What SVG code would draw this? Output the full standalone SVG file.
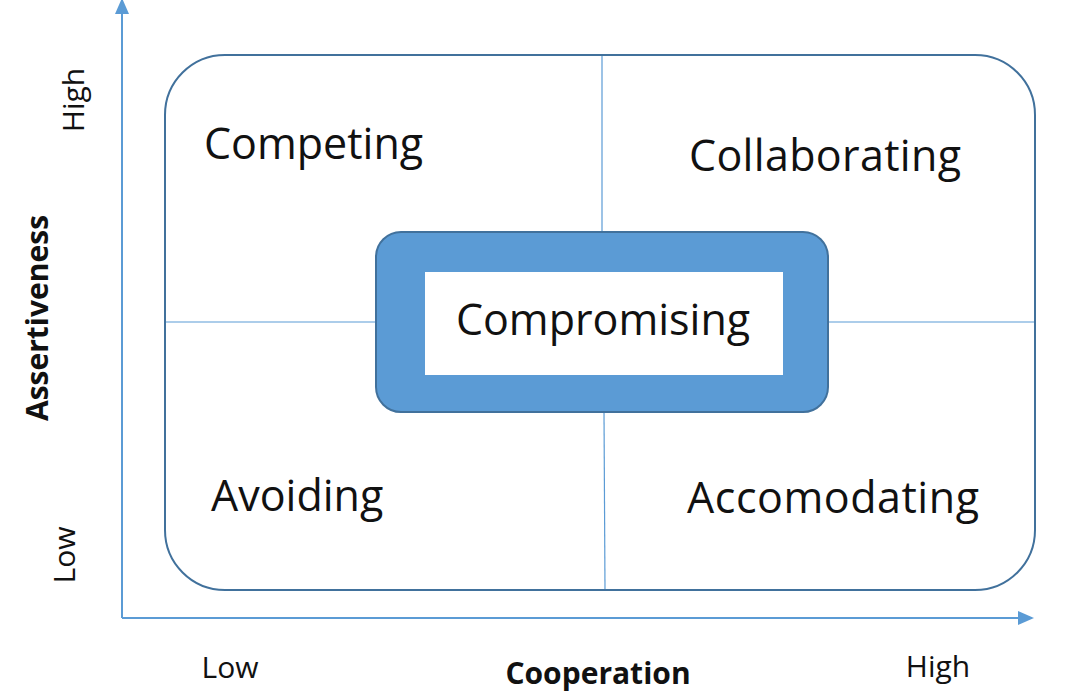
<svg xmlns="http://www.w3.org/2000/svg" width="1072" height="695" viewBox="0 0 1072 695">
<style>
.t{font-family:"Open Sans","Liberation Sans",sans-serif;fill:#111}
.big{font-size:43px}
.ax{font-size:30px}
.b{font-weight:bold}
.div{stroke:#5b9bd5;stroke-width:1.2}
</style>
<defs>
<marker id="ar" markerWidth="16" markerHeight="16" refX="14" refY="7" orient="auto" markerUnits="userSpaceOnUse" viewBox="0 0 16 14">
<path d="M0,0 L16,7 L0,14 z" fill="#5b9bd5"/>
</marker>
</defs>
<rect width="1072" height="695" fill="#fff"/>
<g id="connectors">
<line x1="122" y1="618" x2="122" y2="0" stroke="#5b9bd5" stroke-width="2" marker-end="url(#ar)"/>
<line x1="122" y1="618" x2="1032" y2="618" stroke="#5b9bd5" stroke-width="2" marker-end="url(#ar)"/>
<line class="div" x1="602" y1="55" x2="602" y2="232"/>
<line class="div" x1="604" y1="412" x2="605" y2="590"/>
<line class="div" x1="165" y1="322" x2="376" y2="322"/>
<line class="div" x1="828" y1="322" x2="1035" y2="322"/>
</g>
<g id="frame"><rect x="165" y="55" width="870" height="535" rx="60" fill="none" stroke="#41719c" stroke-width="2"/></g>
<g id="compromising">
<rect x="376" y="232" width="452" height="180" rx="25" fill="#5b9bd5" stroke="#41719c" stroke-width="2"/>
<rect x="425" y="272" width="358" height="103" fill="#fff"/>
<text class="t big" x="603" y="335" text-anchor="middle">Compromising</text>
</g>
<g id="competing"><text class="t big" x="204" y="159">Competing</text></g>
<g id="collaborating"><text class="t big" x="689" y="171" textLength="272">Collaborating</text></g>
<g id="avoiding"><text class="t big" x="211" y="511">Avoiding</text></g>
<g id="accomodating"><text class="t big" x="687" y="513" textLength="292">Accomodating</text></g>
<text class="t ax" x="230" y="678" text-anchor="middle">Low</text>
<text class="t ax b" x="598" y="684" text-anchor="middle">Cooperation</text>
<text class="t ax" x="938" y="677" text-anchor="middle">High</text>
<text class="t ax" transform="translate(84,100) rotate(-90)" text-anchor="middle">High</text>
<text class="t ax b" transform="translate(48,318) rotate(-90)" text-anchor="middle">Assertiveness</text>
<text class="t ax" transform="translate(75,555) rotate(-90)" text-anchor="middle">Low</text>
</svg>
